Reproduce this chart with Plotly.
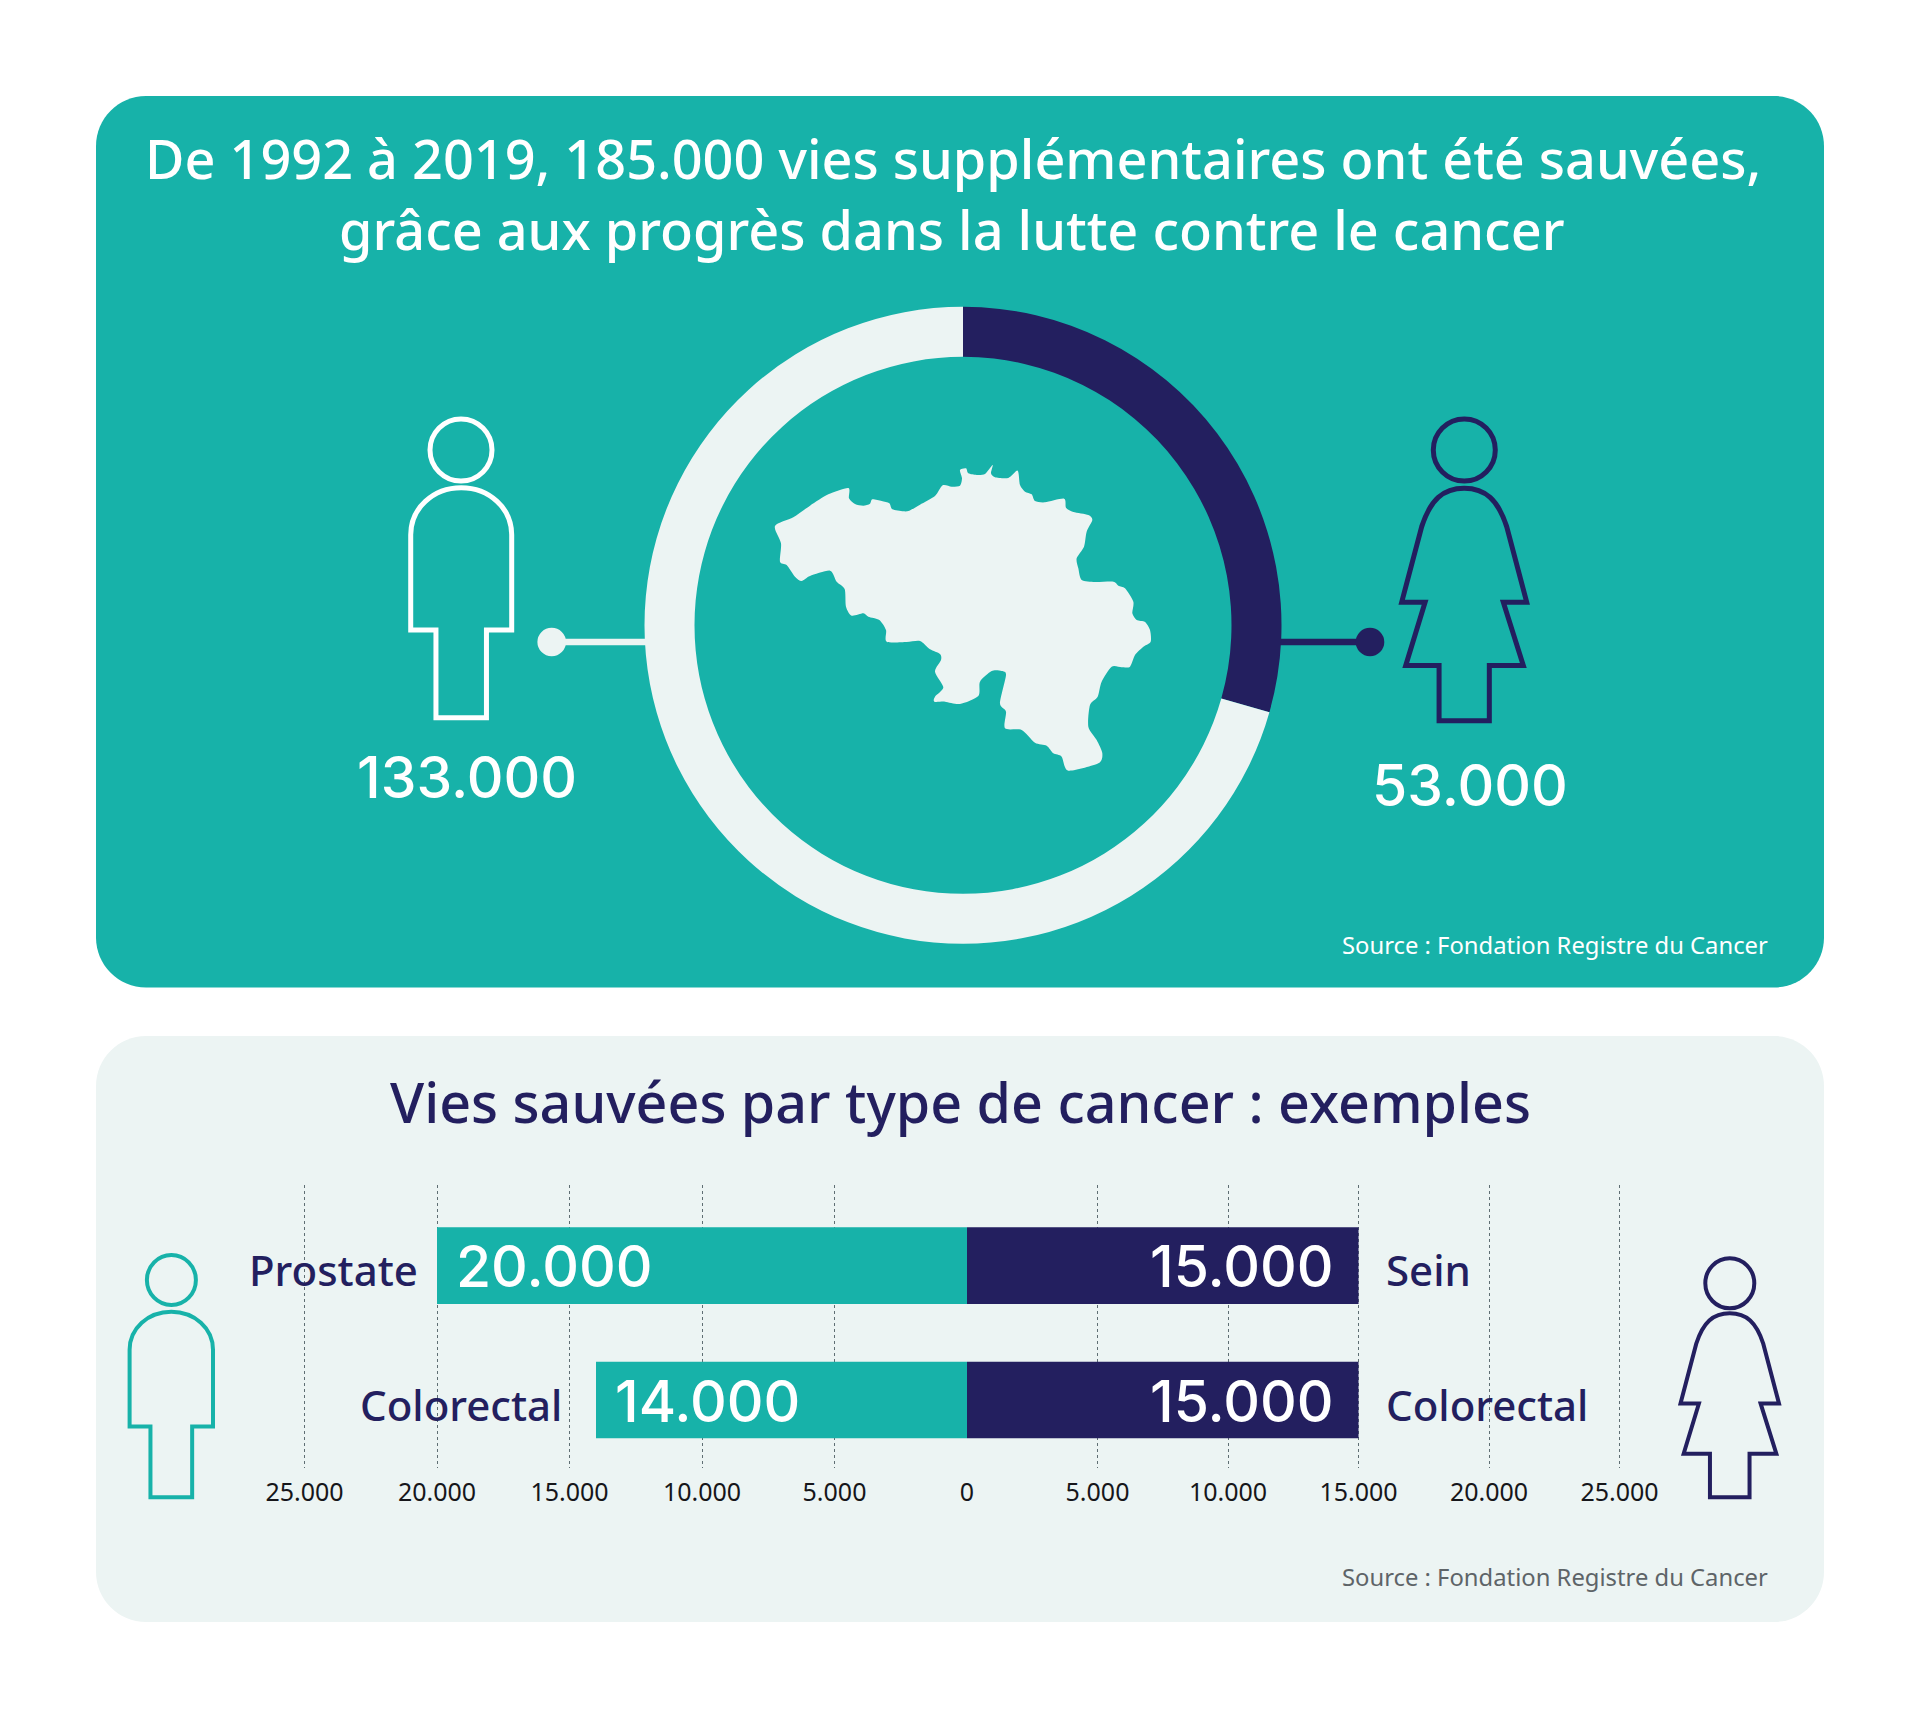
import plotly.graph_objects as go

LARGEUR = 1920
HAUTEUR = 1718

TEAL = "#17B2A9"
NAVY = "#231F5F"
PALE = "#ECF4F3"
POLICE = "Noto Sans"
POLICE_CHIFFRES = "Inter"

# anneau : part de l'arc
ANNEAU_LABELS = ["Femmes", "Hommes"]
ANNEAU_PARTS = [29.4, 70.6]

CANCERS_HOMMES = ["Prostate", "Colorectal"]
VIES_HOMMES = [20000, 14000]
CANCERS_FEMMES = ["Sein", "Colorectal"]
VIES_FEMMES = [15000, 15000]

TICKS_HOMMES = [5000, 10000, 15000, 20000, 25000]
TICKS_FEMMES = [0, 5000, 10000, 15000, 20000, 25000]

# contour de la Belgique, en pixels de l'image / 3 depuis (760, 440)
BELGIQUE = [
    (45, 258), (100, 232), (150, 197), (205, 163), (265, 144), (267, 175), (285, 192), (310, 197),
    (330, 191), (337, 178), (365, 183), (388, 190), (397, 208), (430, 214), (448, 212), (480, 194),
    (525, 168), (548, 136), (575, 140), (600, 137), (606, 115), (600, 90), (618, 85), (625, 100),
    (650, 105), (675, 102), (698, 75), (693, 100), (705, 112), (745, 114), (773, 92), (780, 135),
    (795, 155), (815, 163), (825, 183), (855, 187), (912, 176), (918, 203), (940, 216), (985, 225),
    (997, 240), (980, 275), (972, 320), (950, 355), (955, 385), (965, 420), (1005, 426), (1060, 425),
    (1075, 437), (1095, 445), (1120, 485), (1117, 520), (1130, 540), (1155, 546), (1170, 570),
    (1172, 605), (1150, 620), (1125, 645), (1110, 680), (1085, 682), (1055, 680), (1025, 725),
    (1013, 770), (990, 795), (985, 860), (1010, 900), (1027, 940), (1015, 970), (925, 992), (905, 950),
    (880, 940), (860, 917), (825, 908), (785, 870), (735, 865), (738, 815), (720, 790), (738, 705),
    (725, 693), (695, 693), (660, 725), (655, 768), (600, 792), (555, 785), (523, 785), (525, 770),
    (550, 742), (525, 695), (543, 660), (540, 642), (510, 628), (480, 603), (440, 606), (380, 605),
    (378, 570), (358, 540), (325, 530), (310, 520), (275, 527), (258, 500), (254, 447), (230, 425),
    (210, 392), (150, 408), (125, 423), (105, 410), (80, 375), (60, 365), (63, 310),
]


def px(x):
    return x / LARGEUR


def py(y):
    return 1 - y / HAUTEUR


def pt(x, y):
    return f"{px(x):.5f},{py(y):.5f}"


def forme(path, **kw):
    return dict(type="path", path=path, xref="paper", yref="paper", layer="below", **kw)


def panneau(x0, y0, x1, y1, r, couleur):
    k = r * 0.4477
    path = (
        f"M{pt(x0 + r, y0)} L{pt(x1 - r, y0)} C{pt(x1 - k, y0)} {pt(x1, y0 + k)} {pt(x1, y0 + r)} "
        f"L{pt(x1, y1 - r)} C{pt(x1, y1 - k)} {pt(x1 - k, y1)} {pt(x1 - r, y1)} "
        f"L{pt(x0 + r, y1)} C{pt(x0 + k, y1)} {pt(x0, y1 - k)} {pt(x0, y1 - r)} "
        f"L{pt(x0, y0 + r)} C{pt(x0, y0 + k)} {pt(x0 + k, y0)} {pt(x0 + r, y0)} Z"
    )
    return forme(path, fillcolor=couleur, line_width=0)


def contour_lisse(points):
    # courbes entre les points du contour pour eviter un trace anguleux
    n = len(points)
    path = "M" + pt(*points[0])
    for i in range(n):
        p0, p1, p2, p3 = points[i - 1], points[i], points[(i + 1) % n], points[(i + 2) % n]
        c1 = (p1[0] + (p2[0] - p0[0]) / 8, p1[1] + (p2[1] - p0[1]) / 8)
        c2 = (p2[0] - (p3[0] - p1[0]) / 8, p2[1] - (p3[1] - p1[1]) / 8)
        path += f" C{pt(*c1)} {pt(*c2)} {pt(*p2)}"
    return path + " Z"


def cercle(cx, cy, rx, ry, couleur, remplir=False, epaisseur=0):
    return dict(
        type="circle", xref="paper", yref="paper", layer="below",
        x0=px(cx - rx), x1=px(cx + rx), y0=py(cy + ry), y1=py(cy - ry),
        fillcolor=couleur if remplir else "rgba(0,0,0,0)",
        line=dict(color=couleur, width=epaisseur),
    )


def homme(x0, x1, y0, y1, couleur, epaisseur):
    def p(a, b):
        return pt(x0 + a * (x1 - x0), y0 + b * (y1 - y0))

    path = (
        f"M{p(0, 0.205)} C{p(0, 0.09)} {p(0.22, 0)} {p(0.5, 0)} C{p(0.78, 0)} {p(1, 0.09)} {p(1, 0.205)} "
        f"L{p(1, 0.619)} L{p(0.75, 0.619)} L{p(0.75, 1)} L{p(0.25, 1)} L{p(0.25, 0.619)} L{p(0, 0.619)} Z"
    )
    return forme(path, line=dict(color=couleur, width=epaisseur), fillcolor="rgba(0,0,0,0)")


def femme(x0, x1, y0, y1, couleur, epaisseur):
    def p(a, b):
        return pt(x0 + a * (x1 - x0), y0 + b * (y1 - y0))

    path = (
        f"M{p(0.5, 0)} C{p(0.33, 0)} {p(0.23, 0.05)} {p(0.16, 0.165)} L{p(0, 0.49)} L{p(0.187, 0.49)} "
        f"L{p(0.032, 0.763)} L{p(0.299, 0.763)} L{p(0.299, 1)} L{p(0.701, 1)} L{p(0.701, 0.763)} "
        f"L{p(0.973, 0.763)} L{p(0.813, 0.49)} L{p(1, 0.49)} L{p(0.84, 0.165)} "
        f"C{p(0.77, 0.05)} {p(0.67, 0)} {p(0.5, 0)} Z"
    )
    return forme(path, line=dict(color=couleur, width=epaisseur), fillcolor="rgba(0,0,0,0)")


def texte(x, y, contenu, taille, couleur, ancre="center", police=POLICE, graisse=400):
    return dict(
        x=px(x), y=py(y), xref="paper", yref="paper", text=contenu, showarrow=False,
        xanchor=ancre, yanchor="middle", font=dict(family=police, size=taille, color=couleur, weight=graisse),
    )


def fmt(v):
    return f"{v:,}".replace(",", ".")


fig = go.Figure()

fig.add_trace(go.Pie(
    labels=ANNEAU_LABELS,
    values=ANNEAU_PARTS,
    hole=0.843,
    sort=False,
    direction="clockwise",
    rotation=0,
    textinfo="none",
    marker=dict(colors=[NAVY, PALE], line=dict(width=0)),
    domain=dict(x=[px(963 - 318.5), px(963 + 318.5)], y=[py(625.3 + 318.5), py(625.3 - 318.5)]),
    showlegend=False,
))

fig.add_trace(go.Bar(
    x=VIES_HOMMES, y=CANCERS_HOMMES, orientation="h", width=0.571,
    marker=dict(color=TEAL, line=dict(width=0)), xaxis="x", yaxis="y", showlegend=False,
))
fig.add_trace(go.Bar(
    x=VIES_FEMMES, y=CANCERS_FEMMES, orientation="h", width=0.571,
    marker=dict(color=NAVY, line=dict(width=0)), xaxis="x2", yaxis="y2", showlegend=False,
))

axe_x = dict(
    showgrid=True, gridcolor="#5F6E73", griddash="dot", gridwidth=1, zeroline=False,
    showline=False, ticks="", tickformat=",d", tickmode="array", anchor="y", automargin=False,
    ticklabelstandoff=7, tickfont=dict(family=POLICE, size=25, color="#16161A"), fixedrange=True,
)
axe_y = dict(
    type="category", visible=False, range=[1.506, -0.6], automargin=False,
    domain=[py(1468), py(1185)], fixedrange=True,
)

shapes = [
    panneau(96, 96, 1824, 987.5, 50, TEAL),
    panneau(96, 1036, 1824, 1622, 50, PALE),
    # silhouettes du haut
    cercle(461, 450, 31, 31, "#FFFFFF", epaisseur=5),
    homme(410.7, 511.7, 487.7, 717.7, "#FFFFFF", 5),
    cercle(1464.3, 450, 31, 31, NAVY, epaisseur=5),
    femme(1401.7, 1526.7, 488.3, 720.7, NAVY, 5),
    # silhouettes du bas
    cercle(171.4, 1280, 24.5, 25, TEAL, epaisseur=4),
    homme(129.6, 213, 1311.7, 1497.3, TEAL, 4),
    cercle(1729.8, 1283.3, 24.5, 25, NAVY, epaisseur=4),
    femme(1680.5, 1779, 1313.3, 1497.3, NAVY, 4),
    # traits vers l'anneau
    dict(type="line", xref="paper", yref="paper", layer="below", x0=px(552), x1=px(646), y0=py(642), y1=py(642),
         line=dict(color=PALE, width=6.5)),
    dict(type="line", xref="paper", yref="paper", layer="below", x0=px(1280), x1=px(1370), y0=py(642), y1=py(642),
         line=dict(color=NAVY, width=6.5)),
    cercle(551.7, 642, 14.3, 14.3, PALE, remplir=True),
    cercle(1370, 642, 14.3, 14.3, NAVY, remplir=True),
    forme(
        contour_lisse([(760 + a / 3, 440 + b / 3) for a, b in BELGIQUE]),
        fillcolor=PALE, line_width=0,
    ),
]

annotations = [
    texte(952.5, 158, "De 1992 à 2019, 185.000 vies supplémentaires ont été sauvées,", 54, "#FFFFFF", graisse=500),
    texte(952, 229, "grâce aux progrès dans la lutte contre le cancer", 54, "#FFFFFF", graisse=500),
    texte(467, 778, fmt(133000), 57, "#FFFFFF", police=POLICE_CHIFFRES, graisse=500),
    texte(1469.5, 785, fmt(53000), 57, "#FFFFFF", police=POLICE_CHIFFRES, graisse=500),
    texte(1770, 945, "Source : Fondation Registre du Cancer", 23.8, "#FFFFFF", ancre="right"),
    texte(960, 1101, "Vies sauvées par type de cancer : exemples", 55.6, NAVY, graisse=500),
    texte(1770, 1577, "Source : Fondation Registre du Cancer", 23.8, "#5E6468", ancre="right"),
]

for nom, valeur, decalage in zip(CANCERS_HOMMES, VIES_HOMMES, [-17, -32]):
    annotations.append(dict(
        x=valeur, y=nom, xref="x", yref="y", text=nom, showarrow=False, xanchor="right", yanchor="middle",
        xshift=decalage, yshift=-4, font=dict(family=POLICE, size=42, color=NAVY, weight=500),
    ))
    annotations.append(dict(
        x=valeur, y=nom, xref="x", yref="y", text=fmt(valeur), showarrow=False, xanchor="left", yanchor="middle",
        xshift=17, yshift=-1, font=dict(family=POLICE_CHIFFRES, size=57, color="#FFFFFF", weight=500),
    ))

for nom, valeur in zip(CANCERS_FEMMES, VIES_FEMMES):
    annotations.append(dict(
        x=valeur, y=nom, xref="x2", yref="y2", text=nom, showarrow=False, xanchor="left", yanchor="middle",
        xshift=25, yshift=-4, font=dict(family=POLICE, size=42, color=NAVY, weight=500),
    ))
    annotations.append(dict(
        x=valeur, y=nom, xref="x2", yref="y2", text=fmt(valeur), showarrow=False, xanchor="right", yanchor="middle",
        xshift=-23, yshift=-1, font=dict(family=POLICE_CHIFFRES, size=57, color="#FFFFFF", weight=500),
    ))

fig.update_layout(
    width=LARGEUR,
    height=HAUTEUR,
    margin=dict(l=0, r=0, t=0, b=0),
    paper_bgcolor="#FFFFFF",
    plot_bgcolor="rgba(0,0,0,0)",
    separators=",.",
    hovermode=False,
    shapes=shapes,
    annotations=annotations,
    xaxis=dict(axe_x, domain=[px(300), px(967)], range=[25170, 0], tickvals=TICKS_HOMMES),
    xaxis2=dict(axe_x, domain=[px(967), px(1640)], range=[0, 25785], tickvals=TICKS_FEMMES, anchor="y2"),
    yaxis=dict(axe_y),
    yaxis2=dict(axe_y),
)

fig.write_html(
    "out.html",
    config={"displayModeBar": False},
    post_script="document.body.style.margin = '0';",
)
